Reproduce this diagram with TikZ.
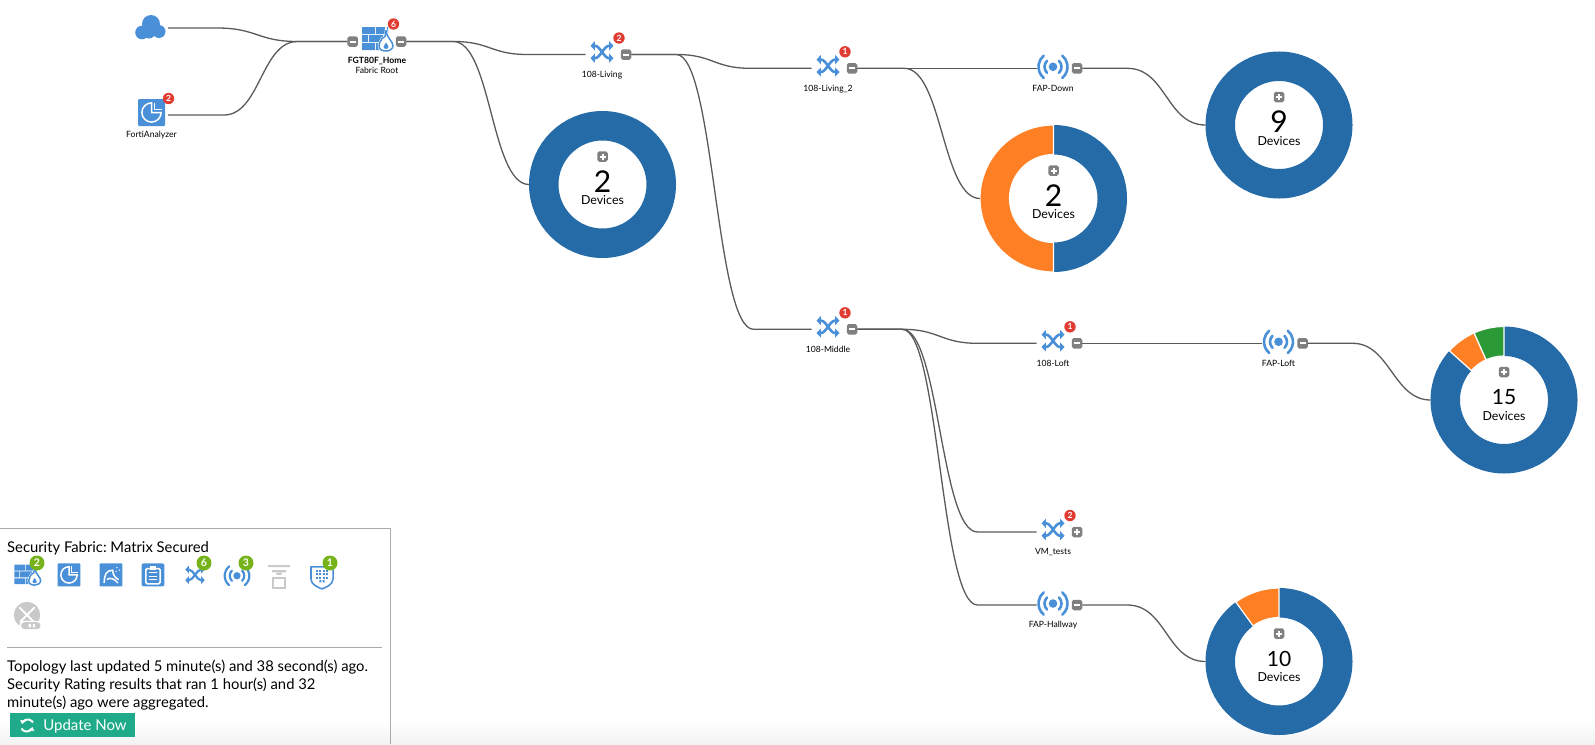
\documentclass[tikz,border=0pt]{standalone}
\usepackage{fontspec}
\setmainfont{Lato}
\usetikzlibrary{arrows.meta,calc}
\definecolor{iconblue}{HTML}{4A90D9}
\definecolor{ringblue}{HTML}{256BA8}
\definecolor{ringorange}{HTML}{FF7F24}
\definecolor{ringgreen}{HTML}{2B9A36}
\definecolor{iconred}{HTML}{E03C31}
\definecolor{okgreen}{HTML}{76B31B}
\definecolor{togglegray}{HTML}{808080}
\definecolor{linegray}{HTML}{5A5A5A}
\definecolor{panelgray}{HTML}{AAAAAA}
\definecolor{idlegray}{HTML}{C9C9C9}
\definecolor{buttonteal}{HTML}{1FAB89}
\tikzset{
  link/.style={draw=linegray,line width=1.3pt},
  iconspot/.style={minimum width=33pt,minimum height=20pt,inner sep=0pt,outer sep=0pt},
  devlabel/.style={inner sep=0pt,font=\fontsize{8.6}{10}\selectfont},
  redbadge/.style={circle,fill=iconred,text=white,inner sep=0pt,minimum size=11.4pt,font=\bfseries\fontsize{8.5}{9}\selectfont},
  greenbadge/.style={circle,fill=okgreen,text=white,inner sep=0pt,minimum size=15pt,font=\bfseries\fontsize{10.5}{11}\selectfont},
  togglebox/.style={rectangle,rounded corners=1.8pt,fill=togglegray,text=white,inner sep=0pt,outer sep=0pt,minimum size=10.5pt},
  ringnode/.style={circle,draw=ringblue,line width=29.5pt,minimum size=117.5pt,inner sep=0pt},
  ringcut/.style={draw=white,line width=1.2pt},
  ringcount/.style={inner sep=0pt,font=\fontsize{#1}{#1}\selectfont},
  ringword/.style={inner sep=0pt,font=\fontsize{12.4}{14}\selectfont},
  paneltext/.style={inner sep=0pt,anchor=north west,align=left,font=\frenchspacing\fontsize{14.8}{18}\selectfont},
  mainicon/.style={line width=2.6pt},
  panelicon/.style={scale=.85,line width=2.2pt},
  iconline/.style={draw=iconblue,line cap=round},
  switchtip/.style={{Triangle[length=0pt 1.7,width=0pt 3.5]}-{Triangle[length=0pt 1.7,width=0pt 3.5]}},
  switchicon/.pic={
    \draw[draw=iconblue,switchtip] (-11.5,-8.7) -- (-7,-8.7) .. controls (-2,-8.7) and (2,3.7) .. (7,3.7) -- (11.5,3.7);
    \draw[draw=iconblue,switchtip] (-11.5,3.7) -- (-7,3.7) .. controls (-2,3.7) and (2,-8.7) .. (7,-8.7) -- (11.5,-8.7);
  },
  wifiicon/.pic={
    \fill[iconblue] (0,-1.5) circle (4.3);
    \draw[iconline] (0,-1.5)+(45:8.5) arc (45:-45:8.5);
    \draw[iconline] (0,-1.5)+(135:8.5) arc (135:225:8.5);
    \draw[iconline] (0,-1.5)+(50:14.5) arc (50:-50:14.5);
    \draw[iconline] (0,-1.5)+(130:14.5) arc (130:230:14.5);
  },
  firewallicon/.pic={
    \fill[iconblue] (-15,-14.5) rectangle (-2,-7.5) (-1,-14.5) rectangle (11,-7.5);
    \fill[iconblue] (-15,-6.5) rectangle (-9,0.5) (-8,-6.5) rectangle (6,0.5);
    \fill[iconblue] (-15,1.5) rectangle (-2,8.5) (-1,1.5) rectangle (3,8.5);
    \filldraw[draw=white,fill=white,line width=2.5pt] (9,-11) .. controls (10,-3) and (16,0) .. (16,4) .. controls (16,8) and (12,9.5) .. (9,9.5) .. controls (5,9.5) and (2,8) .. (2,4) .. controls (2,0) and (5,-1) .. (5,-3) .. controls (7,-3) and (9,-5) .. (9,-11) -- cycle;
    \draw[draw=iconblue,line width=1.5pt,line join=round] (9,-11) .. controls (10,-3) and (16,0) .. (16,4) .. controls (16,8) and (12,9.5) .. (9,9.5) .. controls (5,9.5) and (2,8) .. (2,4) .. controls (2,0) and (5,-1) .. (5,-3) .. controls (7,-3) and (9,-5) .. (9,-11) -- cycle;
    \fill[iconblue] (9,1) .. controls (10,3) and (11.5,4) .. (11.5,5.5) .. controls (11.5,8) and (6.5,8) .. (6.5,5.5) .. controls (6.5,4) and (8,3.5) .. (9,1) -- cycle;
  },
  analyzericon/.pic={
    \fill[iconblue,rounded corners=1pt] (-13.5,-16) rectangle (13.5,11);
    \draw[draw=white,line width=1.5pt] (9.6,-2.5) arc (0:270:9.6) -- (0,-2.5) -- cycle;
    \draw[draw=white,line width=1.5pt] (3,-12.5) -- (3,-5.5) -- (10,-5.5);
  },
  skyicon/.pic={
    \fill[iconblue] (-8,5.5) circle (6.8) (1,-3) circle (9) (9,4.5) circle (6.5) (-1,5) circle (6.5);
  },
  rigicon/.pic={
    \fill[iconblue,rounded corners=1pt] (-13.5,-16) rectangle (13.5,11);
    \draw[draw=white,line width=1.5pt] (-8,7) .. controls (-8,-2) and (-6,-8) .. (2,-8) .. controls (2,-2) and (6,2) .. (9,3) (-5,3) .. controls (-1,0) and (4,2) .. (8,7);
    \fill[white] (7,-11) circle (.9) (10,-8) circle (.9) (6,-6.5) circle (.9);
  },
  listicon/.pic={
    \fill[iconblue,rounded corners=2pt] (-13.5,-16) rectangle (13.5,11);
    \draw[draw=white,line width=1.5pt,rounded corners=1.5pt] (-8.5,-10) rectangle (8.5,8);
    \fill[white] (-4,-13) rectangle (4,-8);
    \draw[draw=white,line width=1.3pt] (-5,-5) -- (5,-5) (-5,-1) -- (5,-1) (-5,3) -- (5,3);
  },
  stackicon/.pic={
    \fill[idlegray] (-13,-14) rectangle (13,-11.5) (-8,-8) rectangle (8,-5.5) (-3,-5) rectangle (3,-2.5);
    \draw[draw=idlegray,line width=2.4pt] (-7,1) rectangle (7,13);
  },
  shieldicon/.pic={
    \draw[draw=iconblue,line width=1.6pt,line join=round] (-13,-12) .. controls (-6,-12) and (6,-12) .. (13,-12) -- (13,2) .. controls (13,9) and (5,12) .. (0,14) .. controls (-5,12) and (-13,9) .. (-13,2) -- cycle;
    \foreach \px in {-6,-2,2,6}
      \foreach \py in {-7,-3,1}
        \fill[iconblue] (\px-1.2,\py-1.2) rectangle (\px+1.2,\py+1.2);
    \fill[iconblue] (-3.2,3.8) rectangle (-.8,6.2) (.8,3.8) rectangle (3.2,6.2);
  },
  toolicon/.pic={
    \fill[idlegray] (0,0) circle (15.5);
    \draw[draw=white,line width=2pt] (-9,-9) -- (8,8) (9,-9) -- (-8,8);
    \fill[white,rounded corners=4pt] (-9,7) rectangle (17,18);
    \fill[idlegray,rounded corners=3.5pt] (-7,8.5) rectangle (16,16.5);
    \fill[white] (2,10.5) rectangle (4.5,14.5) (7,10.5) rectangle (9.5,14.5);
  },
}
\newcommand{\minusbar}{\rule{6pt}{2pt}}
\newcommand{\plusbar}{\hbox to 6pt{\rule{6pt}{2pt}\hskip-4pt\rule[-2pt]{2pt}{6pt}\hss}}
% name, x, y, icon, label
\newcommand{\devnode}[5]{
  \node[iconspot] (#1) at (#2,#3) {};
  \pic[mainicon] at (#1) {#4};
  \node[devlabel] (#1lbl) at (#2,#3+20.5) {#5};
}
% device, digit
\newcommand{\alertdev}[2]{\node[redbadge] (#1bdg) at ($(#1)+(17,-16.5)$) {#2};}
% device, bar
\newcommand{\folddev}[2]{\node[togglebox] (#1tgl) at ($(#1)+(24,0)$) {#2};}
% name, x, y, count, size of count
\newcommand{\ringdev}[5]{
  \node[ringnode] (#1) at (#2,#3) {};
  \node[togglebox] (#1tgl) at (#2,#3-28) {\plusbar};
  \node[ringcount=#5] (#1num) at (#2,#3-3) {#4};
  \node[ringword] (#1wrd) at (#2,#3+16) {Devices};
}
\newcommand{\ringseg}[4]{
  \filldraw[ringcut,fill=#4,shift={(#1)}] (#2:73.5) arc (#2:#3:73.5) -- (#3:44) arc (#3:#2:44) -- cycle;
}
% from, to, first run, half bend, last run
\newcommand{\trunk}[5]{
  \draw[link] (#1.east) -- ++(#3,0) .. controls +(#4,0) and +(-#4,0) .. ($(#2.west)+(-#5,0)$) -- (#2.west);
}
\begin{document}
\begin{tikzpicture}[x=1pt,y=-1pt]
\useasboundingbox (0,0) rectangle (1595,744);
\shade[top color=white,bottom color=black!5] (0,722) rectangle (1595,744);

\node[iconspot] (cloud) at (151.5,28) {};
\pic[mainicon] at (150,27) {skyicon};
\devnode{faz}{151.5}{115}{analyzericon}{FortiAnalyzer}
\alertdev{faz}{2}
\node[togglebox] (fgtin) at (352.7,41.5) {\minusbar};
\node[iconspot,minimum width=30pt] (fgt) at (377,41.5) {};
\pic[mainicon] at (fgt) {firewallicon};
\node[togglebox] (fgtout) at (401,41.5) {\minusbar};
\node[redbadge] (fgtbdg) at (393.5,24) {6};
\node[devlabel,font=\bfseries\fontsize{8.6}{10}\selectfont] (fgtlbl) at (377,61) {FGT80F\_Home};
\node[devlabel] (fgtsub) at (377,70.5) {Fabric Root};

\devnode{living}{602}{54.5}{switchicon}{108-Living}
\alertdev{living}{2}
\folddev{living}{\minusbar}
\devnode{livingtwo}{828}{68.3}{switchicon}{108-Living\_2}
\alertdev{livingtwo}{1}
\folddev{livingtwo}{\minusbar}
\devnode{middle}{828}{329.3}{switchicon}{108-Middle}
\alertdev{middle}{1}
\folddev{middle}{\minusbar}
\devnode{apdown}{1053}{68.3}{wifiicon}{FAP-Down}
\folddev{apdown}{\minusbar}
\devnode{loft}{1053}{343.3}{switchicon}{108-Loft}
\alertdev{loft}{1}
\folddev{loft}{\minusbar}
\devnode{vmtests}{1053}{532}{switchicon}{VM\_tests}
\alertdev{vmtests}{2}
\folddev{vmtests}{\plusbar}
\devnode{aphall}{1053}{605}{wifiicon}{FAP-Hallway}
\folddev{aphall}{\minusbar}
\devnode{aploft}{1278.5}{343.3}{wifiicon}{FAP-Loft}
\folddev{aploft}{\minusbar}

\ringdev{ringa}{602.5}{184.5}{2}{30}
\ringdev{ringb}{1053.5}{198.5}{2}{30}
\ringseg{ringb}{90}{270}{ringorange}
\ringdev{ringc}{1279}{125}{9}{30}
\ringdev{ringd}{1504}{400}{15}{21}
\ringseg{ringd}{222}{246}{ringorange}
\ringseg{ringd}{246}{270}{ringgreen}
\ringdev{ringe}{1279}{661.5}{10}{21}
\ringseg{ringe}{234}{270}{ringorange}

\trunk{cloud}{fgtin}{49}{40}{50}
\trunk{faz}{fgtin}{56}{36}{50}
\trunk{fgtout}{living}{47}{37}{58}
\trunk{fgtout}{ringa}{47}{38}{0}
\trunk{livingtgl}{livingtwo}{45}{37}{61}
\trunk{livingtgl}{middle}{45}{38}{58}
\draw[link] (livingtwotgl.east) -- (apdown.west);
\trunk{livingtwotgl}{ringb}{47}{38}{0}
\trunk{apdowntgl}{ringc}{45}{39}{0}
\trunk{middletgl}{loft}{45}{37}{59}
\trunk{middletgl}{vmtests}{45}{37}{59}
\trunk{middletgl}{aphall}{45}{37}{59}
\draw[link] (lofttgl.east) -- (aploft.west);
\trunk{aplofttgl}{ringd}{45}{37}{0}
\trunk{aphalltgl}{ringe}{45}{39}{0}

\draw[draw=panelgray,line width=1pt] (0,528) -- (390,528) -- (390,744);
\node[paneltext,anchor=west] (paneltitle) at (7,548) {Security Fabric: Matrix Secured};
\pic[panelicon] at (27,577) {firewallicon};
\pic[panelicon] at (69,577) {analyzericon};
\pic[panelicon] at (111,577) {rigicon};
\pic[panelicon] at (153,577) {listicon};
\pic[panelicon] at (195,577) {switchicon};
\pic[panelicon] at (237,577) {wifiicon};
\pic[panelicon] at (279,577) {stackicon};
\pic[panelicon] at (322,577) {shieldicon};
\pic[panelicon] at (27,615) {toolicon};
\node[greenbadge] (bdgfgt) at (37,563) {2};
\node[greenbadge] (bdgsw) at (204,563) {6};
\node[greenbadge] (bdgap) at (246,563) {3};
\node[greenbadge] (bdgsh) at (330,563) {1};
\draw[draw=panelgray,line width=1pt] (7,647) -- (382,647);
\node[paneltext] (panelbody) at (7,659.5) {Topology last updated 5 minute(s) and 38 second(s) ago.\\Security Rating results that ran 1 hour(s) and 32\\minute(s) ago were aggregated.};
\node[rectangle,fill=buttonteal,minimum width=125pt,minimum height=24pt,inner sep=0pt] (btn) at (72.5,725) {};
\node[inner sep=0pt,text=white,font=\fontsize{15}{16}\selectfont] (btntxt) at (85,726.5) {Update Now};
\draw[draw=white,line width=2pt,-{Triangle[length=3.5pt,width=5.5pt]}] (33,722.5) arc (-30:-165:6);
\draw[draw=white,line width=2pt,-{Triangle[length=3.5pt,width=5.5pt]}] (21.5,728.5) arc (150:15:6);
\end{tikzpicture}
\end{document}
